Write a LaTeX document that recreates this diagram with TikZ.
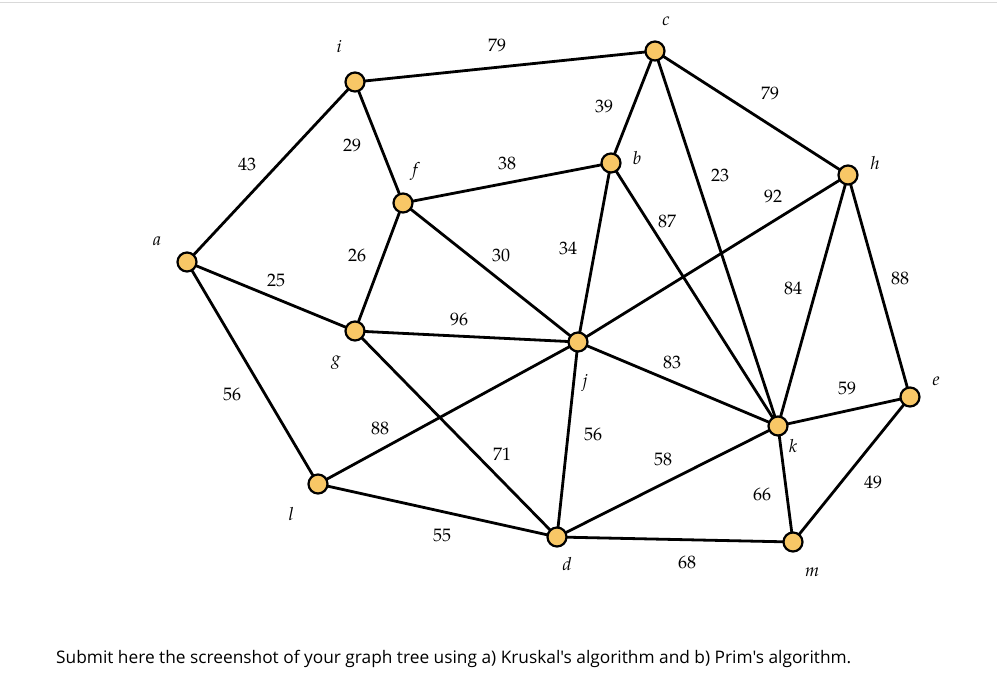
\documentclass[tikz,border=0pt]{standalone}
\usepackage{fontspec}
\setmainfont{TeX Gyre Pagella}
\newfontfamily\opensans{Open Sans}
\definecolor{nodefill}{HTML}{F8C766}
\begin{document}
\begin{tikzpicture}[x=1pt,y=-1pt,
  vtx/.style={circle,draw=black,line width=2.2pt,fill=nodefill,minimum size=19pt,inner sep=0pt},
  edge/.style={line width=2.8pt,black},
  wl/.style={font=\fontsize{18}{21}\selectfont,inner sep=0pt},
  nl/.style={font=\fontsize{18}{21}\selectfont\itshape,inner sep=0pt}]
\useasboundingbox (0,0) rectangle (997,684);
\fill[white] (0,0) rectangle (997,684);
\draw[gray!30,line width=1pt] (0,2.5) -- (997,2.5);
\coordinate (A) at (187,262); \coordinate (I) at (355,82); \coordinate (C) at (655,51);
\coordinate (H) at (848,175); \coordinate (E) at (910,397); \coordinate (M) at (793,542);
\coordinate (D) at (557,537); \coordinate (L) at (318,484); \coordinate (G) at (355,331);
\coordinate (F) at (403,203); \coordinate (B) at (611,163); \coordinate (J) at (578,342);
\coordinate (K) at (778,426);
\foreach \u/\v in {A/I,A/G,A/L,I/C,I/F,F/B,F/G,F/J,C/B,C/H,C/K,B/J,B/K,H/J,H/K,H/E,E/K,E/M,K/M,J/K,J/D,J/L,G/J,G/D,L/D,D/K,D/M}
  \draw[edge] (\u) -- (\v);
\foreach \n in {A,I,C,H,E,M,D,L,G,F,B,J,K} \node[vtx] (n\n) at (\n) {};
% node names
\node[nl] at (157,241) {a};
\node[nl] at (339,47) {i};
\node[nl] at (666,21) {c};
\node[nl] at (875,163) {h};
\node[nl] at (936,381) {e};
\node[nl] at (812,572) {m};
\node[nl] at (567,564) {d};
\node[nl] at (291,514) {l};
\node[nl] at (336,363) {g};
\node[nl] at (415,171) {f};
\node[nl] at (637,158) {b};
\node[nl] at (585,383) {j};
\node[nl] at (793,446) {k};
% weights
\node[wl] at (497,45) {79};
\node[wl] at (770,93) {79};
\node[wl] at (604,106) {39};
\node[wl] at (247,164) {43};
\node[wl] at (352,145) {29};
\node[wl] at (507,163) {38};
\node[wl] at (720,175) {23};
\node[wl] at (773,196) {92};
\node[wl] at (667,221) {87};
\node[wl] at (357,255) {26};
\node[wl] at (501,255) {30};
\node[wl] at (568,248) {34};
\node[wl] at (276,280) {25};
\node[wl] at (793,288) {84};
\node[wl] at (900,278) {88};
\node[wl] at (459,319) {96};
\node[wl] at (672,362) {83};
\node[wl] at (232,394) {56};
\node[wl] at (847,388) {59};
\node[wl] at (380,428) {88};
\node[wl] at (593,434) {56};
\node[wl] at (502,454) {71};
\node[wl] at (663,459) {58};
\node[wl] at (762,494) {66};
\node[wl] at (873,482) {49};
\node[wl] at (442,535) {55};
\node[wl] at (687,562) {68};
\node[anchor=west,inner sep=0pt,font=\opensans\fontsize{17.3}{20}\selectfont] at (56,659) {Submit here the screenshot of your graph tree using a) Kruskal's algorithm and b) Prim's algorithm.};
\end{tikzpicture}
\end{document}
